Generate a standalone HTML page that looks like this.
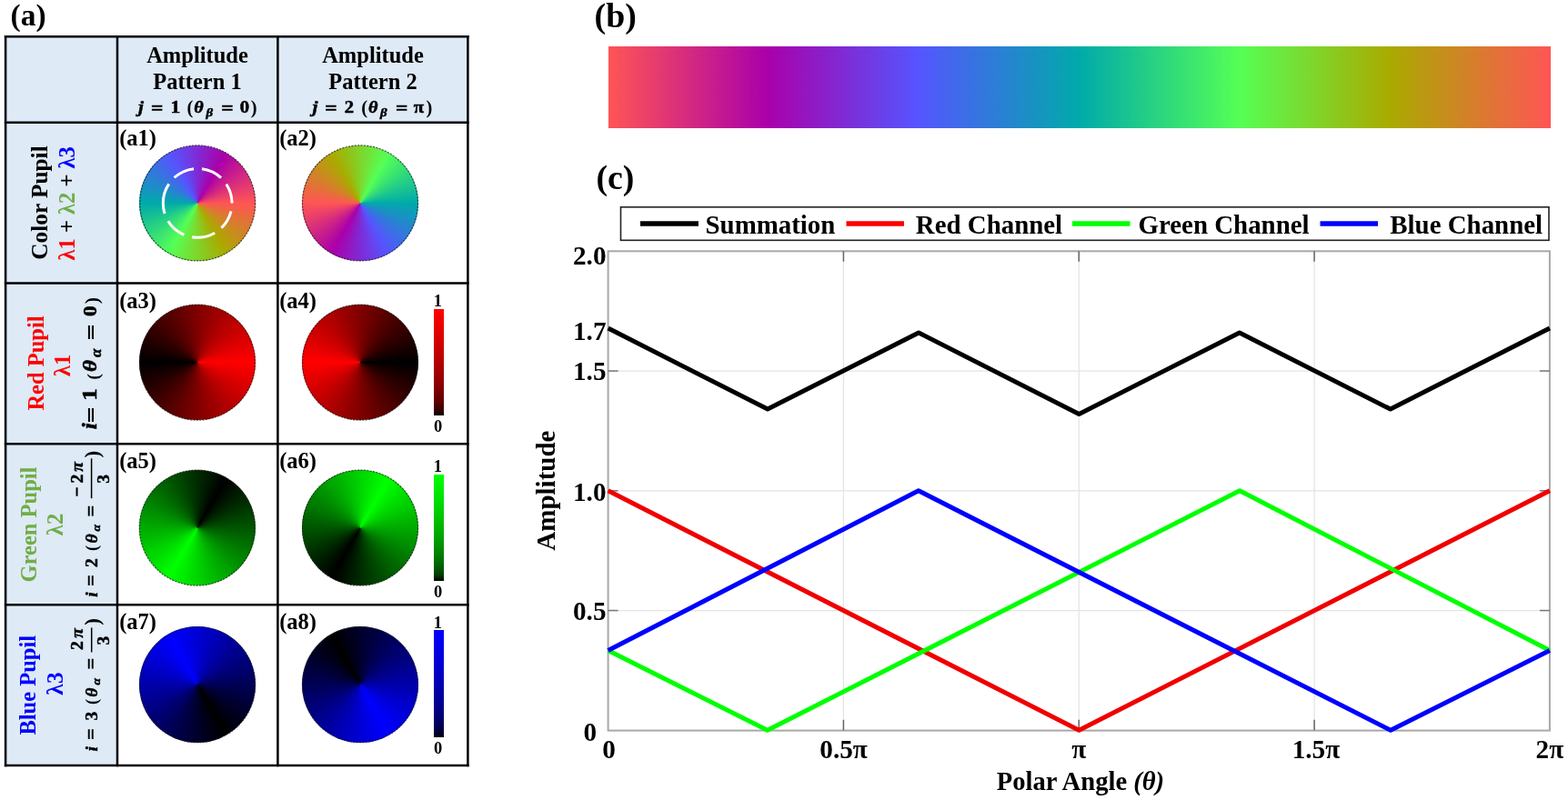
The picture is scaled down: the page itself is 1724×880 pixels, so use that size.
<!DOCTYPE html>
<html><head><meta charset="utf-8"><title>Figure</title>
<style>
html,body{margin:0;padding:0;background:#fff;}
body{width:1724px;height:880px;position:relative;overflow:hidden;font-family:"Liberation Serif", "Times New Roman", serif;}
svg text{font-family:"Liberation Serif", "Times New Roman", serif;font-weight:bold;}
</style></head><body>
<div style="position:absolute;left:6.1px;top:40.2px;width:508.3px;height:94.6px;background:#deeaf6"></div><div style="position:absolute;left:6.1px;top:40.2px;width:122.9px;height:801.7px;background:#deeaf6"></div><div style="position:absolute;left:153.4px;top:159.6px;width:127.6px;height:127.6px;border-radius:50%;background:conic-gradient(from 90deg,rgb(255,85,85) 0%,rgb(170,170,0) 16.67%,rgb(85,255,85) 33.33%,rgb(0,170,170) 50%,rgb(85,85,255) 66.67%,rgb(170,0,170) 83.33%,rgb(255,85,85) 100%)"></div><div style="position:absolute;left:332.2px;top:159.6px;width:127.6px;height:127.6px;border-radius:50%;background:conic-gradient(from 90deg,rgb(0,170,170) 0%,rgb(85,85,255) 16.67%,rgb(170,0,170) 33.33%,rgb(255,85,85) 50%,rgb(170,170,0) 66.67%,rgb(85,255,85) 83.33%,rgb(0,170,170) 100%)"></div><div style="position:absolute;left:153.2px;top:334.8px;width:127.6px;height:127.6px;border-radius:50%;background:conic-gradient(from 90deg,rgb(255,0,0) 0%,rgb(170,0,0) 16.67%,rgb(85,0,0) 33.33%,rgb(0,0,0) 50%,rgb(85,0,0) 66.67%,rgb(170,0,0) 83.33%,rgb(255,0,0) 100%)"></div><div style="position:absolute;left:332.2px;top:334.8px;width:127.6px;height:127.6px;border-radius:50%;background:conic-gradient(from 90deg,rgb(0,0,0) 0%,rgb(85,0,0) 16.67%,rgb(170,0,0) 33.33%,rgb(255,0,0) 50%,rgb(170,0,0) 66.67%,rgb(85,0,0) 83.33%,rgb(0,0,0) 100%)"></div><div style="position:absolute;left:153.0px;top:516.8px;width:127.6px;height:127.6px;border-radius:50%;background:conic-gradient(from 90deg,rgb(0,85,0) 0%,rgb(0,170,0) 16.67%,rgb(0,255,0) 33.33%,rgb(0,170,0) 50%,rgb(0,85,0) 66.67%,rgb(0,0,0) 83.33%,rgb(0,85,0) 100%)"></div><div style="position:absolute;left:332.2px;top:516.8px;width:127.6px;height:127.6px;border-radius:50%;background:conic-gradient(from 90deg,rgb(0,170,0) 0%,rgb(0,85,0) 16.67%,rgb(0,0,0) 33.33%,rgb(0,85,0) 50%,rgb(0,170,0) 66.67%,rgb(0,255,0) 83.33%,rgb(0,170,0) 100%)"></div><div style="position:absolute;left:153.4px;top:689.4px;width:127.6px;height:127.6px;border-radius:50%;background:conic-gradient(from 90deg,rgb(0,0,85) 0%,rgb(0,0,0) 16.67%,rgb(0,0,85) 33.33%,rgb(0,0,170) 50%,rgb(0,0,255) 66.67%,rgb(0,0,170) 83.33%,rgb(0,0,85) 100%)"></div><div style="position:absolute;left:332.2px;top:689.4px;width:127.6px;height:127.6px;border-radius:50%;background:conic-gradient(from 90deg,rgb(0,0,170) 0%,rgb(0,0,255) 16.67%,rgb(0,0,170) 33.33%,rgb(0,0,85) 50%,rgb(0,0,0) 66.67%,rgb(0,0,85) 83.33%,rgb(0,0,170) 100%)"></div><div style="position:absolute;left:476.7px;top:339.5px;width:11px;height:117.6px;background:linear-gradient(to top,rgb(0,0,0) 0.0%,rgb(57,0,0) 5.0%,rgb(81,0,0) 10.0%,rgb(99,0,0) 15.0%,rgb(114,0,0) 20.0%,rgb(128,0,0) 25.0%,rgb(140,0,0) 30.0%,rgb(151,0,0) 35.0%,rgb(161,0,0) 40.0%,rgb(171,0,0) 45.0%,rgb(180,0,0) 50.0%,rgb(189,0,0) 55.0%,rgb(198,0,0) 60.0%,rgb(206,0,0) 65.0%,rgb(213,0,0) 70.0%,rgb(221,0,0) 75.0%,rgb(228,0,0) 80.0%,rgb(235,0,0) 85.0%,rgb(242,0,0) 90.0%,rgb(249,0,0) 95.0%,rgb(255,0,0) 100.0%)"></div><div style="position:absolute;left:476.7px;top:521.7px;width:11px;height:117.6px;background:linear-gradient(to top,rgb(0,0,0) 0.0%,rgb(0,57,0) 5.0%,rgb(0,81,0) 10.0%,rgb(0,99,0) 15.0%,rgb(0,114,0) 20.0%,rgb(0,128,0) 25.0%,rgb(0,140,0) 30.0%,rgb(0,151,0) 35.0%,rgb(0,161,0) 40.0%,rgb(0,171,0) 45.0%,rgb(0,180,0) 50.0%,rgb(0,189,0) 55.0%,rgb(0,198,0) 60.0%,rgb(0,206,0) 65.0%,rgb(0,213,0) 70.0%,rgb(0,221,0) 75.0%,rgb(0,228,0) 80.0%,rgb(0,235,0) 85.0%,rgb(0,242,0) 90.0%,rgb(0,249,0) 95.0%,rgb(0,255,0) 100.0%)"></div><div style="position:absolute;left:476.7px;top:693.4px;width:11px;height:117.8px;background:linear-gradient(to top,rgb(0,0,0) 0.0%,rgb(0,0,57) 5.0%,rgb(0,0,81) 10.0%,rgb(0,0,99) 15.0%,rgb(0,0,114) 20.0%,rgb(0,0,128) 25.0%,rgb(0,0,140) 30.0%,rgb(0,0,151) 35.0%,rgb(0,0,161) 40.0%,rgb(0,0,171) 45.0%,rgb(0,0,180) 50.0%,rgb(0,0,189) 55.0%,rgb(0,0,198) 60.0%,rgb(0,0,206) 65.0%,rgb(0,0,213) 70.0%,rgb(0,0,221) 75.0%,rgb(0,0,228) 80.0%,rgb(0,0,235) 85.0%,rgb(0,0,242) 90.0%,rgb(0,0,249) 95.0%,rgb(0,0,255) 100.0%)"></div><div style="position:absolute;left:669px;top:51px;width:1036px;height:90px;background:linear-gradient(to right,rgb(255,85,85) 0%,rgb(170,0,170) 16.89%,rgb(85,85,255) 32.92%,rgb(0,170,170) 49.95%,rgb(85,255,85) 66.99%,rgb(170,170,0) 83.01%,rgb(255,85,85) 100%)"></div>
<svg width="1724" height="880" viewBox="0 0 1724 880" style="position:absolute;left:0;top:0">
<circle cx="217.2" cy="223.4" r="63.5" fill="none" stroke="#222" stroke-opacity="0.75" stroke-width="1.2" stroke-dasharray="2.2 1.2"/>
<circle cx="396" cy="223.4" r="63.5" fill="none" stroke="#222" stroke-opacity="0.75" stroke-width="1.2" stroke-dasharray="2.2 1.2"/>
<circle cx="217.0" cy="398.6" r="63.5" fill="none" stroke="#222" stroke-opacity="0.75" stroke-width="1.2" stroke-dasharray="2.2 1.2"/>
<circle cx="396" cy="398.6" r="63.5" fill="none" stroke="#222" stroke-opacity="0.75" stroke-width="1.2" stroke-dasharray="2.2 1.2"/>
<circle cx="216.8" cy="580.6" r="63.5" fill="none" stroke="#222" stroke-opacity="0.75" stroke-width="1.2" stroke-dasharray="2.2 1.2"/>
<circle cx="396" cy="580.6" r="63.5" fill="none" stroke="#222" stroke-opacity="0.75" stroke-width="1.2" stroke-dasharray="2.2 1.2"/>
<circle cx="217.2" cy="753.2" r="63.5" fill="none" stroke="#222" stroke-opacity="0.75" stroke-width="1.2" stroke-dasharray="2.2 1.2"/>
<circle cx="396" cy="753.2" r="63.5" fill="none" stroke="#222" stroke-opacity="0.75" stroke-width="1.2" stroke-dasharray="2.2 1.2"/>
<circle cx="217.2" cy="223.4" r="37.9" fill="none" stroke="#fff" stroke-width="3" stroke-dasharray="0.13 9.00 21.43 9.00 26.06 9.00 23.41 9.00 34.19 9.00 23.88 9.00 23.61 9.00 22.43 0.00"/>
<line x1="6.1" y1="38.95" x2="6.1" y2="843.15" stroke="#000" stroke-width="2.5" />
<line x1="129" y1="38.95" x2="129" y2="843.15" stroke="#000" stroke-width="2.5" />
<line x1="305.4" y1="38.95" x2="305.4" y2="843.15" stroke="#000" stroke-width="2.5" />
<line x1="514.4" y1="38.95" x2="514.4" y2="843.15" stroke="#000" stroke-width="2.5" />
<line x1="4.85" y1="40.2" x2="515.65" y2="40.2" stroke="#000" stroke-width="2.5" />
<line x1="4.85" y1="134.8" x2="515.65" y2="134.8" stroke="#000" stroke-width="2.5" />
<line x1="4.85" y1="311.6" x2="515.65" y2="311.6" stroke="#000" stroke-width="2.5" />
<line x1="4.85" y1="488.2" x2="515.65" y2="488.2" stroke="#000" stroke-width="2.5" />
<line x1="4.85" y1="665.2" x2="515.65" y2="665.2" stroke="#000" stroke-width="2.5" />
<line x1="4.85" y1="841.9" x2="515.65" y2="841.9" stroke="#000" stroke-width="2.5" />
<text x="11.6" y="28.2" font-size="33.5" text-anchor="start" fill="#000" >(a)</text>
<text x="653.6" y="29.6" font-size="37.8" text-anchor="start" fill="#000" >(b)</text>
<text x="655.4" y="207.7" font-size="37.8" text-anchor="start" fill="#000" >(c)</text>
<text x="217" y="68.6" font-size="24.5" text-anchor="middle" fill="#000" >Amplitude</text>
<text x="217" y="97.8" font-size="24.5" text-anchor="middle" fill="#000" >Pattern 1</text>
<text x="410" y="68.6" font-size="24.5" text-anchor="middle" fill="#000" >Amplitude</text>
<text x="410" y="97.8" font-size="24.5" text-anchor="middle" fill="#000" >Pattern 2</text>
<text x="131.2" y="159.6" font-size="24.5" text-anchor="start" fill="#000" >(a1)</text>
<text x="307.2" y="159.6" font-size="24.5" text-anchor="start" fill="#000" >(a2)</text>
<text x="131.2" y="338.5" font-size="24.5" text-anchor="start" fill="#000" >(a3)</text>
<text x="307.2" y="338.5" font-size="24.5" text-anchor="start" fill="#000" >(a4)</text>
<text x="131.2" y="514.5" font-size="24.5" text-anchor="start" fill="#000" >(a5)</text>
<text x="307.2" y="514.5" font-size="24.5" text-anchor="start" fill="#000" >(a6)</text>
<text x="131.2" y="692" font-size="24.5" text-anchor="start" fill="#000" >(a7)</text>
<text x="307.2" y="692" font-size="24.5" text-anchor="start" fill="#000" >(a8)</text>
<text x="481.3" y="337.2" font-size="18.5" text-anchor="middle" fill="#000" >1</text>
<text x="481.6" y="474.5" font-size="18.5" text-anchor="middle" fill="#000" >0</text>
<text x="481.3" y="519.4000000000001" font-size="18.5" text-anchor="middle" fill="#000" >1</text>
<text x="481.6" y="656.6999999999999" font-size="18.5" text-anchor="middle" fill="#000" >0</text>
<text x="481.3" y="691.1" font-size="18.5" text-anchor="middle" fill="#000" >1</text>
<text x="481.6" y="828.6" font-size="18.5" text-anchor="middle" fill="#000" >0</text>
<text x="51.8" y="223" font-size="25.3" text-anchor="middle" fill="#000" transform="rotate(-90 51.8 223)" >Color Pupil</text>
<text x="82.3" y="223.8" font-size="24.5" text-anchor="middle" fill="#000" transform="rotate(-90 82.3 223.8)" ><tspan fill="#ff0000">λ1</tspan> + <tspan fill="#70ad47">λ2</tspan> + <tspan fill="#0000ff">λ3</tspan></text>
<text x="48.2" y="399.5" font-size="24.5" text-anchor="middle" fill="#ff0000" transform="rotate(-90 48.2 399.5)" >Red Pupil</text>
<text x="77" y="401.8" font-size="24.5" text-anchor="middle" fill="#ff0000" transform="rotate(-90 77 401.8)" >λ1</text>
<text x="0" y="0" font-size="19.5" stroke="#000" stroke-width="0.5" text-anchor="middle" font-style="italic" fill="#000" transform="translate(155.0 123.6) scale(1.1 1)">j</text>
<text x="0" y="0" font-size="21" stroke="#000" stroke-width="0.5" text-anchor="middle" fill="#000" transform="translate(172.8 125.89999999999999) scale(1.12 1)">=</text>
<text x="0" y="0" font-size="18" stroke="#000" stroke-width="0.5" text-anchor="middle" fill="#000" transform="translate(192.8 123.6) scale(1.2 1)">1</text>
<text x="209" y="125.39999999999999" font-size="20.5"  text-anchor="middle" fill="#000">(</text>
<text x="0" y="0" font-size="18" stroke="#000" stroke-width="0.5" text-anchor="middle" font-style="italic" fill="#000" transform="translate(218.5 123.6) scale(1.12 1)">θ</text>
<text x="0" y="0" font-size="13.5" stroke="#000" stroke-width="0.5" text-anchor="middle" font-style="italic" fill="#000" transform="translate(230.4 128.2) scale(1.1 1)">β</text>
<text x="0" y="0" font-size="21" stroke="#000" stroke-width="0.5" text-anchor="middle" fill="#000" transform="translate(249.9 125.89999999999999) scale(1.12 1)">=</text>
<text x="0" y="0" font-size="18" stroke="#000" stroke-width="0.5" text-anchor="middle" fill="#000" transform="translate(269 123.6) scale(1.15 1)">0</text>
<text x="279.1" y="125.39999999999999" font-size="20.5"  text-anchor="middle" fill="#000">)</text>
<text x="0" y="0" font-size="19.5" stroke="#000" stroke-width="0.5" text-anchor="middle" font-style="italic" fill="#000" transform="translate(346.6 123.6) scale(1.1 1)">j</text>
<text x="0" y="0" font-size="21" stroke="#000" stroke-width="0.5" text-anchor="middle" fill="#000" transform="translate(364 125.89999999999999) scale(1.12 1)">=</text>
<text x="0" y="0" font-size="18" stroke="#000" stroke-width="0.5" text-anchor="middle" fill="#000" transform="translate(384 123.6) scale(1.15 1)">2</text>
<text x="400.6" y="125.39999999999999" font-size="20.5"  text-anchor="middle" fill="#000">(</text>
<text x="0" y="0" font-size="18" stroke="#000" stroke-width="0.5" text-anchor="middle" font-style="italic" fill="#000" transform="translate(410.3 123.6) scale(1.12 1)">θ</text>
<text x="0" y="0" font-size="13.5" stroke="#000" stroke-width="0.5" text-anchor="middle" font-style="italic" fill="#000" transform="translate(421.7 128.2) scale(1.1 1)">β</text>
<text x="0" y="0" font-size="21" stroke="#000" stroke-width="0.5" text-anchor="middle" fill="#000" transform="translate(441.6 125.89999999999999) scale(1.12 1)">=</text>
<text x="0" y="0" font-size="18" stroke="#000" stroke-width="0.5" text-anchor="middle" fill="#000" transform="translate(460.3 123.6) scale(1.15 1)">π</text>
<text x="471.9" y="125.39999999999999" font-size="20.5"  text-anchor="middle" fill="#000">)</text>
<text x="0" y="0" font-size="23" stroke="#000" stroke-width="0.55" text-anchor="middle" font-style="italic" fill="#000" transform="translate(106.2 0) rotate(-90) translate(-468.7 0) scale(1.1 1)">i</text>
<text x="0" y="0" font-size="18.5" style="font-family:'DejaVu Serif',serif" text-anchor="middle" fill="#000" transform="translate(106.4 0) rotate(-90) translate(-456.5 0) scale(1.3 1)">=</text>
<text x="0" y="0" font-size="22.5" stroke="#000" stroke-width="0.55" text-anchor="middle" fill="#000" transform="translate(106.2 0) rotate(-90) translate(-433.9 0) scale(1.2 1)">1</text>
<text x="-414.4" y="0" font-size="19"  text-anchor="middle" fill="#000" transform="translate(108.60000000000001 0) rotate(-90)">(</text>
<text x="0" y="0" font-size="21.5" stroke="#000" stroke-width="0.55" text-anchor="middle" font-style="italic" fill="#000" transform="translate(106.2 0) rotate(-90) translate(-402.5 0) scale(1.15 1)">θ</text>
<text x="-388.4" y="0" font-size="17" stroke="#000" stroke-width="0.55" text-anchor="middle" font-style="italic" fill="#000" transform="translate(111.2 0) rotate(-90)">α</text>
<text x="0" y="0" font-size="18.5" style="font-family:'DejaVu Serif',serif" text-anchor="middle" fill="#000" transform="translate(106.4 0) rotate(-90) translate(-365.5 0) scale(1.3 1)">=</text>
<text x="0" y="0" font-size="22" stroke="#000" stroke-width="0.55" text-anchor="middle" fill="#000" transform="translate(106.2 0) rotate(-90) translate(-342.3 0) scale(1.05 1)">0</text>
<text x="-330.7" y="0" font-size="22"  text-anchor="middle" fill="#000" transform="translate(107.7 0) rotate(-90)">)</text>
<text x="-654" y="0" font-size="19.5" stroke="#000" stroke-width="0.45" text-anchor="middle" font-style="italic" fill="#000" transform="translate(106.6 0) rotate(-90)">i</text>
<text x="-638.5" y="0" font-size="22" stroke="#000" stroke-width="0.45" text-anchor="middle" fill="#000" transform="translate(107.3 0) rotate(-90)">=</text>
<text x="-619" y="0" font-size="19.5" stroke="#000" stroke-width="0.45" text-anchor="middle" fill="#000" transform="translate(106.6 0) rotate(-90)">2</text>
<text x="-603" y="0" font-size="18.5"  text-anchor="middle" fill="#000" transform="translate(107.1 0) rotate(-90)">(</text>
<text x="-592.5" y="0" font-size="19.5" stroke="#000" stroke-width="0.45" text-anchor="middle" font-style="italic" fill="#000" transform="translate(106.6 0) rotate(-90)">θ</text>
<text x="-580.7" y="0" font-size="13.5" stroke="#000" stroke-width="0.45" text-anchor="middle" font-style="italic" fill="#000" transform="translate(110.19999999999999 0) rotate(-90)">α</text>
<text x="-562" y="0" font-size="22" stroke="#000" stroke-width="0.45" text-anchor="middle" fill="#000" transform="translate(107.3 0) rotate(-90)">=</text>
<text x="-541" y="0" font-size="19.5" stroke="#000" stroke-width="0.45" text-anchor="middle" fill="#000" transform="translate(90.8 0) rotate(-90)">−</text>
<text x="-526.5" y="0" font-size="19.5" stroke="#000" stroke-width="0.45" text-anchor="middle" fill="#000" transform="translate(90.8 0) rotate(-90)">2</text>
<text x="-513.5" y="0" font-size="19.5" stroke="#000" stroke-width="0.45" text-anchor="middle" font-style="italic" fill="#000" transform="translate(90.8 0) rotate(-90)">π</text>
<text x="-526.8" y="0" font-size="19.5" stroke="#000" stroke-width="0.45" text-anchor="middle" fill="#000" transform="translate(120.0 0) rotate(-90)">3</text>
<line x1="100.6" y1="504.3" x2="100.6" y2="548.2" stroke="#000" stroke-width="1.5" />
<text x="-499.6" y="0" font-size="23"  text-anchor="middle" fill="#000" transform="translate(108.5 0) rotate(-90)">)</text>
<text x="-823.8" y="0" font-size="19.5" stroke="#000" stroke-width="0.45" text-anchor="middle" font-style="italic" fill="#000" transform="translate(106.6 0) rotate(-90)">i</text>
<text x="-807.5" y="0" font-size="22" stroke="#000" stroke-width="0.45" text-anchor="middle" fill="#000" transform="translate(107.3 0) rotate(-90)">=</text>
<text x="-787.7" y="0" font-size="19.5" stroke="#000" stroke-width="0.45" text-anchor="middle" fill="#000" transform="translate(106.6 0) rotate(-90)">3</text>
<text x="-772" y="0" font-size="18.5"  text-anchor="middle" fill="#000" transform="translate(107.1 0) rotate(-90)">(</text>
<text x="-761.7" y="0" font-size="19.5" stroke="#000" stroke-width="0.45" text-anchor="middle" font-style="italic" fill="#000" transform="translate(106.6 0) rotate(-90)">θ</text>
<text x="-749.8" y="0" font-size="13.5" stroke="#000" stroke-width="0.45" text-anchor="middle" font-style="italic" fill="#000" transform="translate(110.19999999999999 0) rotate(-90)">α</text>
<text x="-730.1" y="0" font-size="22" stroke="#000" stroke-width="0.45" text-anchor="middle" fill="#000" transform="translate(107.3 0) rotate(-90)">=</text>
<text x="-710.1" y="0" font-size="19.5" stroke="#000" stroke-width="0.45" text-anchor="middle" fill="#000" transform="translate(90.8 0) rotate(-90)">2</text>
<text x="-696.5" y="0" font-size="19.5" stroke="#000" stroke-width="0.45" text-anchor="middle" font-style="italic" fill="#000" transform="translate(90.8 0) rotate(-90)">π</text>
<text x="-704.5" y="0" font-size="19.5" stroke="#000" stroke-width="0.45" text-anchor="middle" fill="#000" transform="translate(120.0 0) rotate(-90)">3</text>
<line x1="100.7" y1="690.4" x2="100.7" y2="717.5" stroke="#000" stroke-width="1.5" />
<text x="-683.8" y="0" font-size="23"  text-anchor="middle" fill="#000" transform="translate(108.5 0) rotate(-90)">)</text>
<text x="40" y="577" font-size="24.5" text-anchor="middle" fill="#70ad47" transform="rotate(-90 40 577)" >Green Pupil</text>
<text x="69" y="577" font-size="24.5" text-anchor="middle" fill="#70ad47" transform="rotate(-90 69 577)" >λ2</text>
<text x="38.8" y="753.8" font-size="24.5" text-anchor="middle" fill="#0000ff" transform="rotate(-90 38.8 753.8)" >Blue Pupil</text>
<text x="69" y="752" font-size="25.5" text-anchor="middle" fill="#0000ff" transform="rotate(-90 69 752)" >λ3</text>
<line x1="927.4250000000001" y1="276.3" x2="927.4250000000001" y2="803.3" stroke="#e3e3e3" stroke-width="1.2" />
<line x1="1186.25" y1="276.3" x2="1186.25" y2="803.3" stroke="#e3e3e3" stroke-width="1.2" />
<line x1="1445.0750000000003" y1="276.3" x2="1445.0750000000003" y2="803.3" stroke="#e3e3e3" stroke-width="1.2" />
<line x1="668.6" y1="671.55" x2="1703.9" y2="671.55" stroke="#e3e3e3" stroke-width="1.2" />
<line x1="668.6" y1="539.8" x2="1703.9" y2="539.8" stroke="#e3e3e3" stroke-width="1.2" />
<line x1="668.6" y1="408.04999999999995" x2="1703.9" y2="408.04999999999995" stroke="#e3e3e3" stroke-width="1.2" />
<rect x="668.6" y="276.3" width="1035.3000000000002" height="527.3" fill="none" stroke="#a8a8a8" stroke-width="2"/>
<line x1="927.4250000000001" y1="803.3" x2="927.4250000000001" y2="791.8" stroke="#666" stroke-width="1.5" />
<line x1="927.4250000000001" y1="276.3" x2="927.4250000000001" y2="287.8" stroke="#666" stroke-width="1.5" />
<line x1="1186.25" y1="803.3" x2="1186.25" y2="791.8" stroke="#666" stroke-width="1.5" />
<line x1="1186.25" y1="276.3" x2="1186.25" y2="287.8" stroke="#666" stroke-width="1.5" />
<line x1="1445.0750000000003" y1="803.3" x2="1445.0750000000003" y2="791.8" stroke="#666" stroke-width="1.5" />
<line x1="1445.0750000000003" y1="276.3" x2="1445.0750000000003" y2="287.8" stroke="#666" stroke-width="1.5" />
<line x1="668.6" y1="671.55" x2="679.6" y2="671.55" stroke="#777" stroke-width="1.5" />
<line x1="1703.9" y1="671.55" x2="1692.9" y2="671.55" stroke="#777" stroke-width="1.5" />
<line x1="668.6" y1="539.8" x2="679.6" y2="539.8" stroke="#777" stroke-width="1.5" />
<line x1="1703.9" y1="539.8" x2="1692.9" y2="539.8" stroke="#777" stroke-width="1.5" />
<line x1="668.6" y1="408.04999999999995" x2="679.6" y2="408.04999999999995" stroke="#777" stroke-width="1.5" />
<line x1="1703.9" y1="408.04999999999995" x2="1692.9" y2="408.04999999999995" stroke="#777" stroke-width="1.5" />
<polyline points="668.6,539.8 1186.4,803.3 1703.9,539.8" fill="none" stroke="#f00000" stroke-width="5.0" stroke-linejoin="round"/>
<polyline points="668.6,715.5 843.8,803.3 1363.0,539.8 1703.9,715.5" fill="none" stroke="#00ff00" stroke-width="5.0" stroke-linejoin="round"/>
<polyline points="668.6,715.5 1009.9,539.8 1529.0,803.3 1703.9,715.5" fill="none" stroke="#0000ff" stroke-width="5.0" stroke-linejoin="round"/>
<polyline points="668.6,361.0 844.0,450.1 1010.1,366.0 1186.4,455.4 1362.8,366.0 1528.8,450.1 1703.9,361.0" fill="none" stroke="#000000" stroke-width="5.0" stroke-linejoin="round"/>
<rect x="682.5" y="227.8" width="1020.5" height="36.5" fill="#fff" stroke="#222" stroke-width="1.6"/>
<line x1="704" y1="246" x2="768" y2="246" stroke="#000" stroke-width="5.6" />
<line x1="930.5" y1="246" x2="994" y2="246" stroke="#ff0000" stroke-width="5.6" />
<line x1="1179" y1="246" x2="1242.5" y2="246" stroke="#00ff00" stroke-width="5.6" />
<line x1="1451.5" y1="246" x2="1515" y2="246" stroke="#0000ff" stroke-width="5.6" />
<text x="775.5" y="256.8" font-size="28.9" text-anchor="start" fill="#000" >Summation</text>
<text x="1006.8" y="256.8" font-size="28.9" text-anchor="start" fill="#000" >Red Channel</text>
<text x="1251.5" y="256.8" font-size="28.9" text-anchor="start" fill="#000" >Green Channel</text>
<text x="1528.3" y="256.8" font-size="28.9" text-anchor="start" fill="#000" >Blue Channel</text>
<text x="666.5" y="290.5" font-size="29.2" text-anchor="end" fill="#000" >2.0</text>
<text x="666.5" y="373.6" font-size="29.2" text-anchor="end" fill="#000" >1.7</text>
<text x="666.5" y="418" font-size="29.2" text-anchor="end" fill="#000" >1.5</text>
<text x="666.5" y="550.7" font-size="29.2" text-anchor="end" fill="#000" >1.0</text>
<text x="666.5" y="682.2" font-size="29.2" text-anchor="end" fill="#000" >0.5</text>
<text x="656" y="814.8" font-size="29.2" text-anchor="end" fill="#000" >0</text>
<text x="669.6" y="833.6" font-size="29.2" text-anchor="middle" fill="#000" >0</text>
<text x="927.6" y="833.6" font-size="29.2" text-anchor="middle" fill="#000" >0.5π</text>
<text x="1186.2" y="833.6" font-size="29.2" text-anchor="middle" fill="#000" >π</text>
<text x="1446.9" y="833.6" font-size="29.2" text-anchor="middle" fill="#000" >1.5π</text>
<text x="1703.9" y="833.6" font-size="29.2" text-anchor="middle" fill="#000" >2π</text>
<text x="1188" y="868.6" font-size="28.6" text-anchor="middle" fill="#000" >Polar Angle <tspan font-style="italic">(θ)</tspan></text>
<text x="610.3" y="539.6" font-size="29" text-anchor="middle" fill="#000" transform="rotate(-90 610.3 539.6)" >Amplitude</text>
</svg>
</body></html>
